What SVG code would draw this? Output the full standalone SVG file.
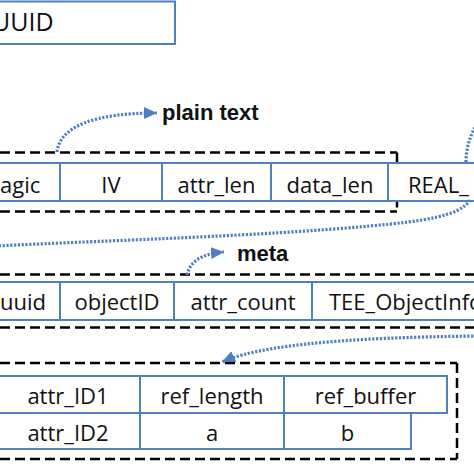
<svg xmlns="http://www.w3.org/2000/svg" width="474" height="474" viewBox="0 0 474 474">
<style>
.cell{fill:#fff;stroke:#4f81bd;stroke-width:2}
.dash{fill:none;stroke:#000;stroke-width:2.5;stroke-dasharray:10 5}
.t{font-family:"Open Sans","Liberation Sans",sans-serif;font-size:22px;fill:#111}
.m{text-anchor:middle}
.lbl{font-family:"Liberation Sans",Arial,sans-serif;font-weight:bold;font-size:22px;fill:#111}
.dot{fill:none;stroke:#4f7fc0;stroke-width:3.2;stroke-dasharray:2.2 1.6}
</style>
<defs>
<marker id="ah" markerUnits="userSpaceOnUse" markerWidth="14" markerHeight="12" refX="13" refY="6" orient="auto">
<path d="M0,0 L13,6 L0,12 Z" fill="#4f7fc0"/>
</marker>
</defs>
<rect width="474" height="474" fill="#fff"/>

<g id="uuid-box">
<rect class="cell" x="-10" y="1.5" width="185" height="42.5"/>
<text class="t" x="-8" y="31" style="font-size:25px">UUID</text>
</g>

<g id="frame1">
<path class="dash" d="M0,152.5 H397 M0,211.5 H397 M397,152.5 V211.5"/>
</g>
<g id="row1">
<g id="magic"><rect class="cell" x="-10" y="163" width="70" height="38"/><text class="t" x="0" y="193">agic</text></g>
<g id="iv"><rect class="cell" x="60" y="163" width="102" height="38"/><text class="t m" x="111" y="193">IV</text></g>
<g id="attr_len"><rect class="cell" x="162" y="163" width="109" height="38"/><text class="t m" x="216.5" y="193">attr_len</text></g>
<g id="data_len"><rect class="cell" x="271" y="163" width="118" height="38"/><text class="t m" x="330" y="193">data_len</text></g>
<g id="real"><rect class="cell" x="388" y="163" width="100" height="38"/><text class="t" x="408" y="193">REAL_</text></g>
</g>

<g id="label-plain"><text class="lbl" x="162" y="120">plain text</text></g>
<g id="label-meta"><text class="lbl" x="237" y="261">meta</text></g>

<g id="frame2">
<path class="dash" d="M0,274.5 H474 M0,327.5 H474"/>
</g>
<g id="row2">
<g id="uuid"><rect class="cell" x="-10" y="282" width="70" height="38"/><text class="t" x="0" y="310">uuid</text></g>
<g id="objectID"><rect class="cell" x="60" y="282" width="114" height="38"/><text class="t m" x="117" y="310">objectID</text></g>
<g id="attr_count"><rect class="cell" x="174" y="282" width="138" height="38"/><text class="t m" x="243" y="310">attr_count</text></g>
<g id="tee"><rect class="cell" x="312" y="282" width="180" height="38"/><text class="t" x="329" y="310">TEE_ObjectInfo</text></g>
</g>

<g id="frame3">
<path class="dash" d="M0,363 H457 M0,459 H457 M457,363 V459"/>
</g>
<g id="table">
<g id="attr_ID1"><rect class="cell" x="-10" y="376" width="150" height="37"/><text class="t m" x="68" y="404">attr_ID1</text></g>
<g id="ref_length"><rect class="cell" x="140" y="376" width="144" height="37"/><text class="t m" x="212" y="404">ref_length</text></g>
<g id="ref_buffer"><rect class="cell" x="284" y="376" width="163" height="37"/><text class="t m" x="365.5" y="404">ref_buffer</text></g>
<g id="attr_ID2"><rect class="cell" x="-10" y="413" width="150" height="36"/><text class="t m" x="68" y="441">attr_ID2</text></g>
<g id="a"><rect class="cell" x="140" y="413" width="144" height="36"/><text class="t m" x="212" y="441">a</text></g>
<g id="b"><rect class="cell" x="284" y="413" width="127" height="36"/><text class="t m" x="347.5" y="441">b</text></g>
</g>

<g id="connectors">
<path class="dot" d="M57,152 C60,126 95,113 157,113" marker-end="url(#ah)"/>
<path class="dot" d="M187,275 C190,262 200,254 224,252" marker-end="url(#ah)"/>
<path class="dot" d="M477,124 C469,137 466,150 466,163"/>
<path class="dot" d="M470,200 C460,216 425,221 370,226 C260,236 120,240 -5,246"/>
<path class="dot" d="M477,336 C400,337 270,340 222,362" marker-end="url(#ah)"/>
</g>
</svg>
